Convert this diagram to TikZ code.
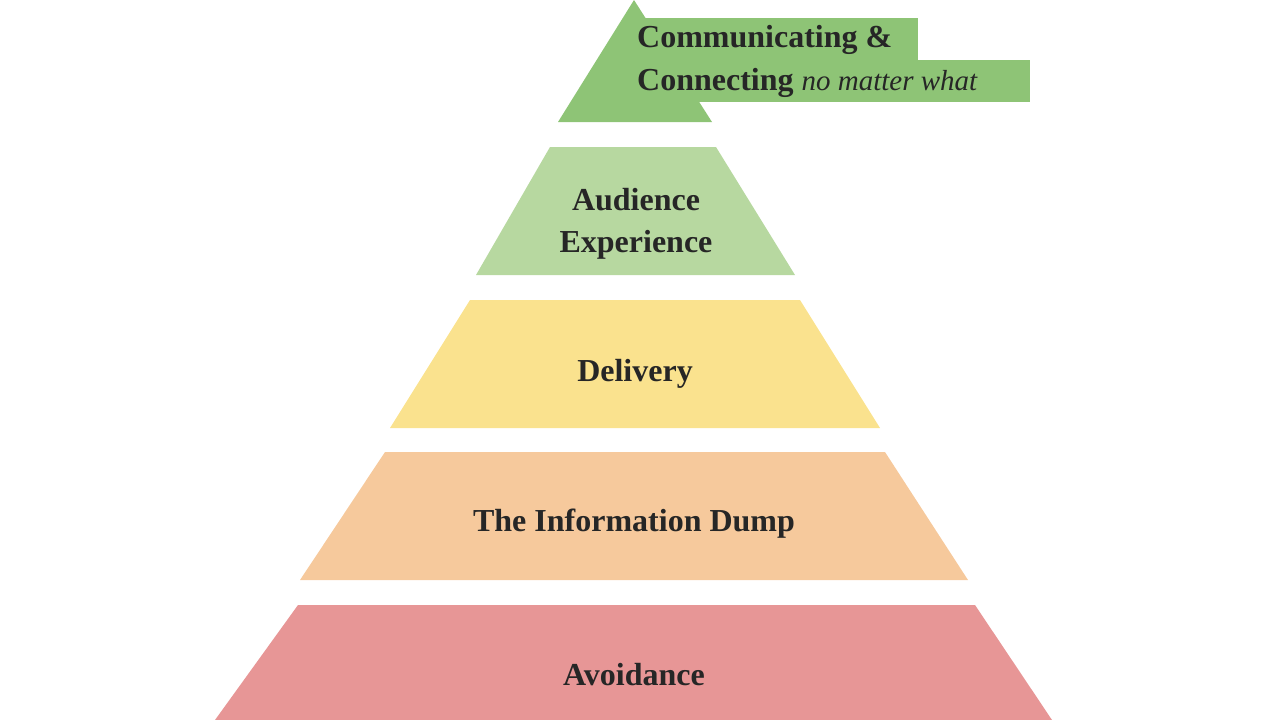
\documentclass[tikz,border=0pt]{standalone}
\usepackage{fontspec}
\setmainfont{Liberation Serif}
\usetikzlibrary{positioning}

\definecolor{topgreen}{RGB}{142,196,118}
\definecolor{lightgreen}{RGB}{183,216,160}
\definecolor{lightyellow}{RGB}{250,226,142}
\definecolor{lightorange}{RGB}{246,201,156}
\definecolor{lightred}{RGB}{231,150,150}

\tikzset{
  layer/.style={draw=none},
  lbl/.style={font=\fontsize{32}{42}\selectfont\bfseries, align=center, text=black!85},
}

\begin{document}
\begin{tikzpicture}[x=1pt, y=-1pt]
  \useasboundingbox (0,0) rectangle (1280,720);
  % top level
  \fill [topgreen] (634,0) -- (712,122) -- (558,122) -- cycle;
  \fill [topgreen] (635,18) rectangle (918,60);
  \fill [topgreen] (635,60) rectangle (1030,102);
  \node [lbl, anchor=west, inner sep=0pt] (top1) at (637,40) {Communicating \&};
  \node [lbl, anchor=west, inner sep=0pt] (top2) at (637,83) {Connecting \textmd{\itshape\fontsize{29}{34}\selectfont no matter what}};
  % layers
  \fill [lightgreen] (550,147) -- (716,147) -- (795,275) -- (476,275) -- cycle;
  \node [lbl] (audience) at (636,224) {Audience\\Experience};
  \fill [lightyellow] (470,300) -- (800,300) -- (880,428) -- (390,428) -- cycle;
  \node [lbl] (delivery) at (635,374) {Delivery};
  \fill [lightorange] (385,452) -- (885,452) -- (968,580) -- (300,580) -- cycle;
  \node [lbl] (dump) at (634,524) {The Information Dump};
  \fill [lightred] (298,605) -- (975,605) -- (1052,720) -- (215,720) -- cycle;
  \node [lbl] (avoid) at (634,675) {Avoidance};
\end{tikzpicture}
\end{document}
